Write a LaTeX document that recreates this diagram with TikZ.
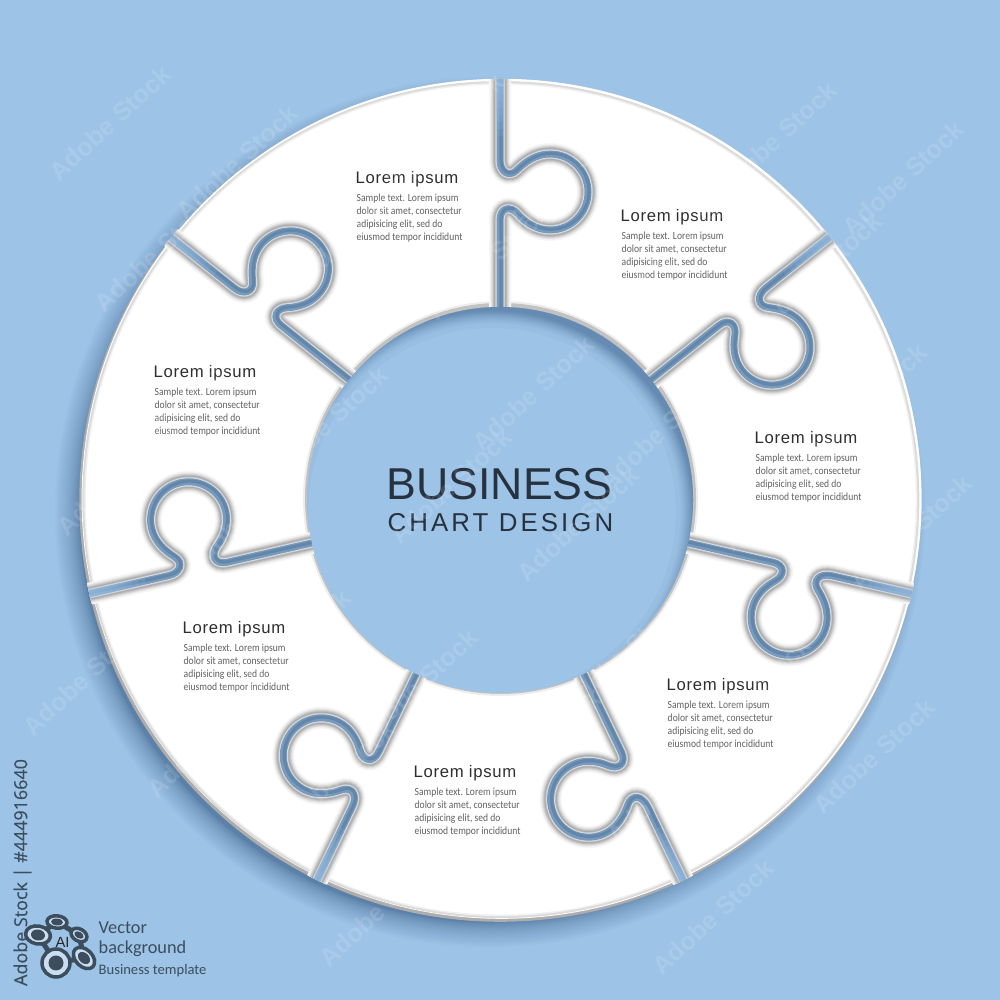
\documentclass[tikz,border=0pt]{standalone}
\usepackage{fontspec}
\setmainfont{Carlito}
\newfontfamily\titlefont{Liberation Sans}
\newfontfamily\subfont[LetterSpace=12]{Liberation Sans}
\newfontfamily\headfont[LetterSpace=4]{Liberation Sans}
\newfontfamily\notefont[FakeStretch=0.88]{Carlito}
\newfontfamily\stockfont[FakeBold=0.4]{Open Sans}
\usetikzlibrary{positioning}
\definecolor{sky}{RGB}{157,195,230}
\definecolor{castblue}{RGB}{40,75,120}
\definecolor{channel}{RGB}{118,155,190}
\definecolor{channeldark}{RGB}{78,110,145}
\definecolor{ink}{RGB}{38,50,64}
\definecolor{slate}{RGB}{60,78,94}
\tikzset{
  notehead/.style={font=\headfont\fontsize{4.75}{5}\selectfont,
                   text=black!82, anchor=west, inner sep=0pt},
  notebody/.style={font=\notefont\fontsize{3.1}{3.7}\selectfont, text=black!62, align=left, inner sep=0pt},
  logoring/.style={draw=slate, line width=0.35mm, fill=sky!55},
  logocore/.style={fill=slate},
  logotext/.style={text=slate, anchor=west, inner sep=0pt},
  wmark/.style={font=\titlefont\bfseries\fontsize{7.2}{8}\selectfont, text=white, opacity=0.13, rotate=43, inner sep=0pt},
}
% centre line of one joint, written for the joint at the top of the ring
\newcommand{\jointline}{(0,4.3) -- (0,3.40)
  .. controls (0,3.28) and (0.09,3.22) .. (0.17,3.30)
  .. controls (0.25,3.38) and (0.36,3.46) .. (0.50,3.46)
  .. controls (0.71,3.46) and (0.88,3.29) .. (0.88,3.08)
  .. controls (0.88,2.87) and (0.71,2.70) .. (0.50,2.70)
  .. controls (0.36,2.70) and (0.25,2.78) .. (0.18,2.86)
  .. controls (0.10,2.95) and (0,2.92) .. (0,2.80) -- (0,1.85)}
\begin{document}
\begin{tikzpicture}
    \useasboundingbox (0,0) rectangle (10,10);
    \fill[sky] (0,0) rectangle (10,10);
    % --- shadow of the ring on the background ---
    \foreach \k in {0,...,23}
      \fill[castblue,opacity=0.026] (4.90,4.88) circle ({4.10+0.25*(1-\k/24)^2});
    % --- the ring, with its rim ---
    \fill[black!32] (5.003,4.992) circle (4.21);
    \fill[white] (5.016,5.012) circle (4.20);
    \fill[black!14] (5.008,5.004) circle (4.185);
    \fill[black!6] (5.008,5.004) circle (4.165);
    \fill[white] (5.008,5.004) circle (4.15);
    % --- rim of the hole in the middle ---
    \fill[black!7] (5.005,5.015) circle (1.975);
    \fill[black!24] (5.005,5.015) circle (1.955);
    % --- the seven joints ---
    \begin{scope}
      \clip (5.005,4.995) circle (4.215);
      \foreach \i in {0,...,6} {
        \begin{scope}[shift={(5,5)},rotate=-\i*360/7]
          \foreach \w/\c in {22/3,20/6,18/11,16/18,14/26,12/33,10/24,8.5/10}
            \draw[line width=\w*0.1mm,black!\c] \jointline;
          \draw[line width=0.7mm,channel] \jointline;
          \draw[line width=0.32mm,channeldark,opacity=0.45,shift={(\i*360/7+35:0.012)}] \jointline;
          \foreach \k in {1,...,8}
            \draw[line width=0.75mm,sky,opacity=0.15] (0,4.25) -- (0,{4.2-\k*0.07});
        \end{scope}
      }
    \end{scope}
    % --- the hole and the shadow falling into it ---
    \fill[sky] (5,5) circle (1.93);
    \begin{scope}
      \clip (5,5) circle (1.93);
      \foreach \k in {0,...,13}
        \fill[castblue,opacity=0.04,even odd rule] (2.8,2.8) rectangle (7.2,7.2)
          (4.92,4.88) circle ({1.84+0.18*(\k/14)^0.5});
    \end{scope}
    % --- the title ---
    \node[font=\titlefont\fontsize{12.7}{13}\selectfont,text=ink,inner sep=0pt] (title) at (4.995,5.16) {BUSINESS};
    \node[font=\subfont\fontsize{7.35}{8}\selectfont,text=ink,inner sep=0pt] (subtitle) at (5.005,4.77) {CHART DESIGN};
    % --- the seven notes ---
    \foreach \i/\hx/\hy in {1/3.55/8.21,2/6.20/7.83,3/7.54/5.61,4/6.66/3.14,5/4.13/2.27,6/1.82/3.71,7/1.53/6.27} {
      \node[notehead] (head\i) at (\hx,\hy) {Lorem ipsum};
      \node[notebody,below right=0.055cm and 0.01cm of head\i.south west] (body\i)
        {Sample text. Lorem ipsum\\dolor sit amet, consectetur\\adipisicing elit, sed do\\eiusmod tempor incididunt};
    }
    % --- the corner: stock line, logo and its words ---
    \node[font=\stockfont\fontsize{5.1}{6}\selectfont,text=slate,rotate=90,inner sep=0pt] (stock) at (0.225,1.275) {Adobe Stock | \#444916640};
    \draw[slate,line width=0.5mm,rounded corners=0.6mm] (0.57,0.78) -- (0.38,0.65) -- (0.56,0.37) -- (0.84,0.42) -- (0.79,0.65) -- cycle;
    \draw[logoring,rotate around={-5:(0.57,0.78)}] (0.57,0.78) ellipse (0.10 and 0.062);
    \fill[logocore,rotate around={-5:(0.57,0.78)}] (0.57,0.78) ellipse (0.06 and 0.035);
    \draw[logoring,rotate around={-10:(0.38,0.65)}] (0.38,0.65) ellipse (0.125 and 0.09);
    \fill[logocore,rotate around={-10:(0.38,0.65)}] (0.38,0.65) ellipse (0.07 and 0.055);
    \draw[logoring,rotate around={-30:(0.79,0.65)}] (0.79,0.65) ellipse (0.085 and 0.06);
    \fill[logocore,rotate around={-30:(0.79,0.65)}] (0.79,0.65) ellipse (0.05 and 0.032);
    \draw[logoring,rotate around={-45:(0.84,0.42)}] (0.84,0.42) ellipse (0.125 and 0.085);
    \fill[logocore,rotate around={-45:(0.84,0.42)}] (0.84,0.42) ellipse (0.07 and 0.05);
    \draw[logoring] (0.56,0.37) circle (0.14);
    \fill[logocore] (0.56,0.37) circle (0.075);
    \node[font=\titlefont\fontsize{4.2}{5}\selectfont,text=black!85,inner sep=0pt] (logoai) at (0.625,0.58) {AI};
    \node[logotext,font=\fontsize{5.2}{6}\selectfont] (vector) at (0.98,0.72) {Vector};
    \node[logotext,font=\fontsize{5.2}{6}\selectfont,below=0.055cm of vector.south west,anchor=north west] (background) {background};
    \node[logotext,font=\fontsize{4.15}{5}\selectfont,below=0.065cm of background.south west,anchor=north west] (template) {Business template};
    % --- faint marks over the picture ---
    \foreach \r in {0,...,8}
      \foreach \c in {-2,...,3}
        \foreach \s in {0,1} {
          \pgfmathsetmacro{\wx}{0.65+\c*3.33+\r*0.45+\s*(mod(\r,2)==1?1.27:2.06)}
          \pgfmathsetmacro{\wy}{10.08-\c*0.08-\r*1.31+\s*(mod(\r,2)==1?-0.39:0.30)}
          \pgfmathtruncatemacro{\inside}{(\wx>0.75)&&(\wx<9.25)&&(\wy>0.75)&&(\wy<9.25)}
          \ifnum\inside=1
            \node[wmark] at (\wx,\wy) {Adobe Stock};
          \fi
        }
\end{tikzpicture}
\end{document}
